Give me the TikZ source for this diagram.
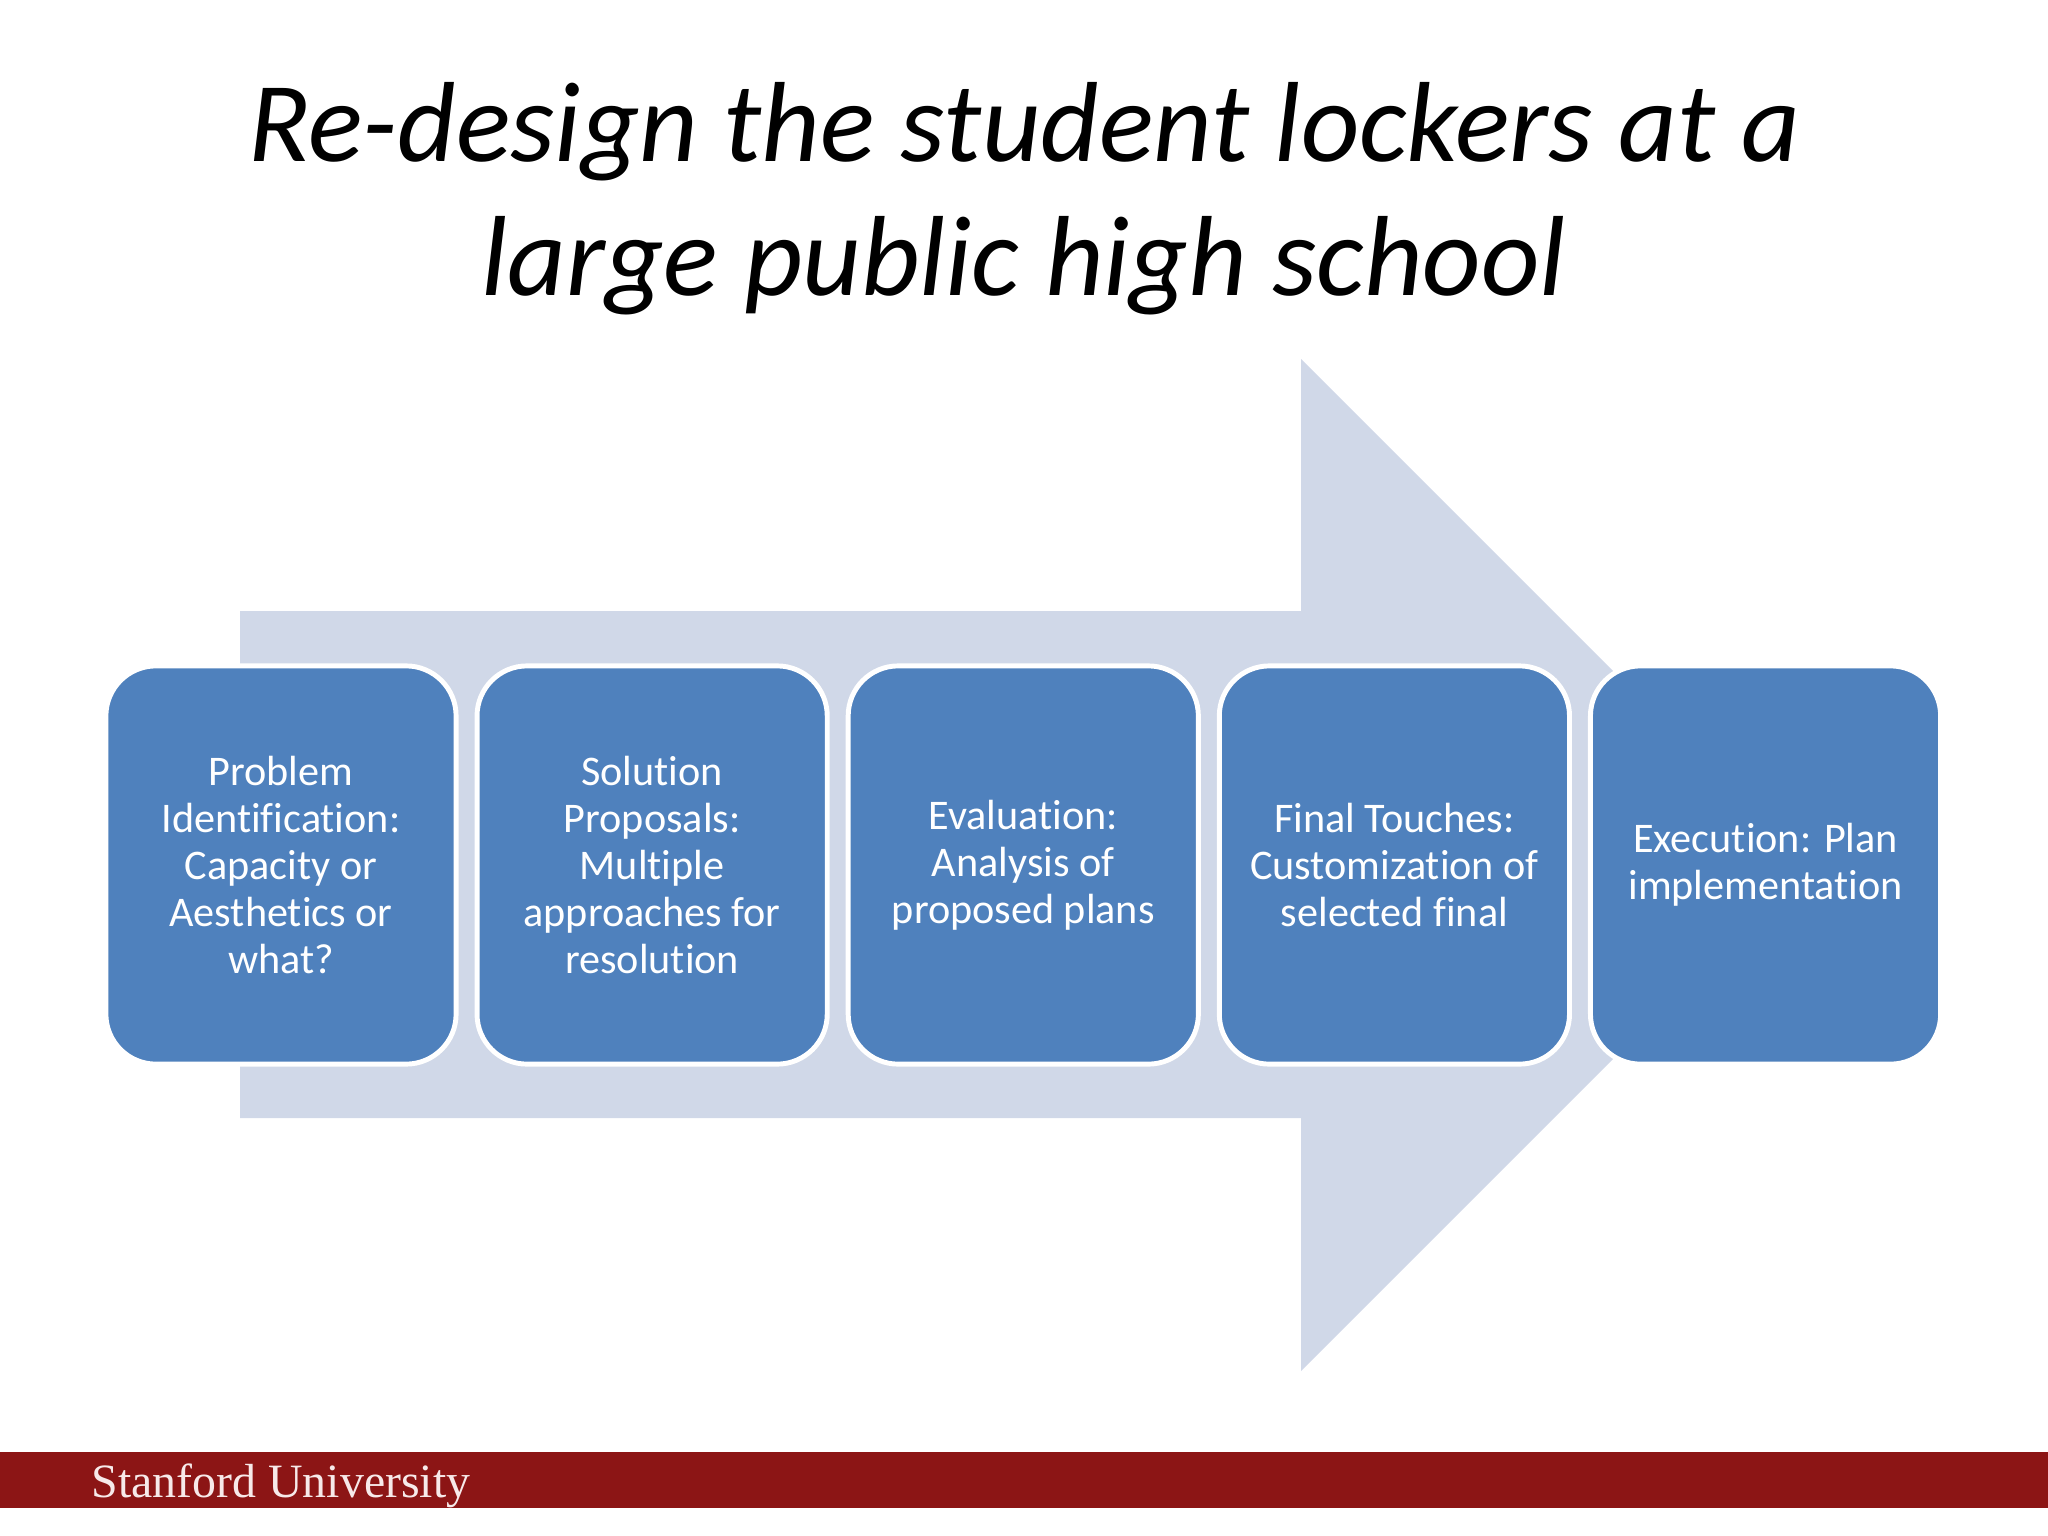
\documentclass[tikz,border=0pt]{standalone}
\usepackage{fontspec}
\setmainfont{Carlito}[Ligatures=NoCommon]
\newfontfamily\stanfordfont{Liberation Serif}
\usetikzlibrary{positioning}
\definecolor{sblue}{HTML}{4F81BD}
\definecolor{arrowgrey}{HTML}{D0D8E8}
\definecolor{cardinal}{HTML}{8C1515}
\definecolor{pinkwhite}{HTML}{F7E9E9}
\tikzset{stagebox/.style = {draw=white, line width=1.4pt, fill=sblue, rounded corners=0.5cm,
                            minimum width=3.5cm, minimum height=3.98cm, inner sep=0,
                            text=white, align=center, font=\fontsize{12}{13.4}\selectfont}}
\tikzset{titleline/.style = {anchor=base, font=\itshape\fontsize{32.4}{38}\selectfont}}

\begin{document}
\begin{tikzpicture}[x=0.01cm, y=-0.01cm]
      \useasboundingbox (0, 0) rectangle (2048, 1536);

      \node [titleline] (title1) at (1024, 161) {Re-design the student lockers at a};
      \node [titleline] (title2) at (1024, 295) {large public high school};

      % big arrow behind the steps
      \fill [arrowgrey] (240, 611) -- (1301, 611) -- (1301, 359) -- (1807, 865)
                        -- (1301, 1371) -- (1301, 1118) -- (240, 1118) -- cycle;

      \node [stagebox] (problem) at (281, 865) {Problem\\Identification:\\Capacity or\\Aesthetics or\\what?};
      \node [stagebox, right=0.16cm of problem] (solution) {Solution\\Proposals:\\Multiple\\approaches for\\resolution};
      \node [stagebox, right=0.16cm of solution] (evaluation) {Evaluation:\\Analysis of\\proposed plans};
      \node [stagebox, right=0.16cm of evaluation] (touches) {Final Touches:\\Customization of\\selected final};
      \node [stagebox, right=0.16cm of touches] (execution) {Execution: Plan\\implementation};

      \fill [cardinal] (0, 1452) rectangle (2048, 1508);
      \node [anchor=base west, inner sep=0, text=pinkwhite, font=\stanfordfont\fontsize{13.6}{15}\selectfont]
            (stanford) at (91, 1497) {Stanford University};
\end{tikzpicture}
\end{document}
